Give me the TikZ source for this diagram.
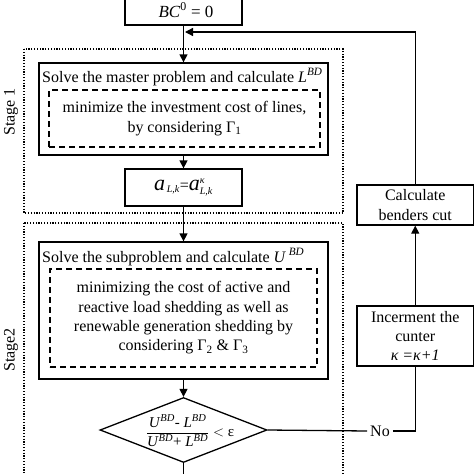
\documentclass[tikz,border=0pt]{standalone}
\usepackage{fontspec}
\setmainfont{Liberation Serif}
\usetikzlibrary{shapes.geometric,arrows.meta}
\newcommand\BDsup{\textsuperscript{\textit{BD}}}
\newcommand\ssz{\fontsize{10}{12}\selectfont}
\begin{document}
\begin{tikzpicture}[x=1pt,y=-1pt,
  font=\fontsize{16}{19.3}\selectfont,
  box/.style={draw,line width=1.3pt,inner sep=0pt,align=center},
  dashbox/.style={draw,line width=1.1pt,dash pattern=on 6pt off 4pt,inner sep=0pt,align=center},
  dotframe/.style={draw,line width=1.1pt,dash pattern=on 1.2pt off 1.6pt},
  arr/.style={line width=1.3pt,-{Triangle[length=8pt,width=8pt]}},
  conn/.style={line width=1.3pt},
  lbl/.style={inner sep=0pt,align=center}]
\useasboundingbox (0,0) rectangle (474,474);
% stage frames
\draw[dotframe] (24,49) rectangle (343,213);
\draw[dotframe] (24,223) rectangle (343,490);
\node[lbl,rotate=90] (s1) at (11,112) {Stage 1};
\node[lbl,rotate=90] (s2) at (11,350) {Stage2};
% boxes
\node[box,minimum width=117pt,minimum height=35pt] (init) at (183.5,7.5) {};
\node[lbl] (initt) at (186,10) {\fontsize{17}{19}\selectfont\textit{BC}\textsuperscript{0} = 0};
\node[box,minimum width=289pt,minimum height=92pt] (master) at (183.5,109) {};
\node[lbl,anchor=west] (mtitle) at (42,77) {Solve the master problem and calculate \textit{L}\BDsup};
\node[dashbox,minimum width=271pt,minimum height=57pt] (mdash) at (184.5,118.5) {minimize the investment cost of lines,\\by considering Γ\textsubscript{1}};
\node[box,minimum width=117pt,minimum height=37pt] (abox) at (183.5,187.5)
  {$\hbox{\fontsize{22}{22}\selectfont\itshape a}_{\,\hbox{\ssz\itshape L,k}}\hbox{=}\hbox{\fontsize{22}{22}\selectfont\itshape a}^{\hbox{\ssz\itshape κ}}_{\hbox{\ssz\itshape L,k}}$};
\node[box,minimum width=289pt,minimum height=137pt] (sub) at (183.5,310.5) {};
\node[lbl,anchor=west] (stitle) at (42,257) {Solve the subproblem and calculate \textit{U}\,\BDsup};
\node[dashbox,minimum width=267pt,minimum height=98pt] (sdash) at (183.5,318) {minimizing the cost of active and\\reactive load shedding as well as\\renewable generation shedding by\\considering Γ\textsubscript{2} \& Γ\textsubscript{3}};
\node[draw,diamond,line width=1.3pt,inner sep=0pt,minimum width=167pt,minimum height=65pt] (dia) at (183.5,430) {};
\node[lbl] (diat) at (190,431) {\fontsize{15}{18}\selectfont$\displaystyle\frac{\hbox{\textit{U}\BDsup- \textit{L}\BDsup}}{\hbox{\textit{U}\BDsup+ \textit{L}\BDsup}}$ $<$ ε};
\node[box,minimum width=116.5pt,minimum height=40pt] (calc) at (415.25,205) {Calculate\\benders cut};
\node[box,minimum width=116.5pt,minimum height=60pt] (incr) at (415.25,336) {Incerment the\\cunter\\\textit{κ =κ+1}};
\node[lbl] (no) at (380,431) {No};
\coordinate (bottom) at (183.5,480);
\coordinate (fb) at (185,32);
% connectors
\draw[arr] (init.south) -- (master.north);
\draw[arr] (master.south) -- (abox.north);
\draw[arr] (abox.south) -- (sub.north);
\draw[arr] (sub.south) -- (dia.north);
\draw[conn] (dia.south) -- (bottom);
\draw[conn] (dia.east) -- ([xshift=-3pt]no.west);
\draw[conn] ([xshift=3pt]no.east) -| (incr.south);
\draw[arr] (incr.north) -- (calc.south);
\draw[arr] (calc.north) |- (fb);
\end{tikzpicture}
\end{document}
